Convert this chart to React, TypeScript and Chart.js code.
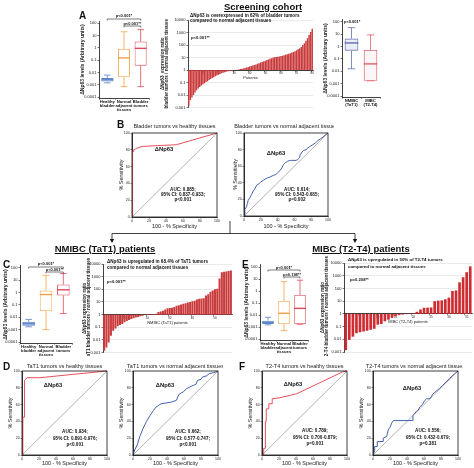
import React, { useEffect, useRef } from "react";
import { Chart, registerables } from "chart.js";

Chart.register(...registerables);

const FONT = "'Liberation Sans', Arial, Helvetica, sans-serif";
Chart.defaults.font.family = FONT;
Chart.defaults.color = "#1a1a1a";

// ---------- shared axis ticks ----------
const levelTicks = [0.0001, 0.001, 0.01, 0.1, 1, 10, 100];
const levelTickLabels = ["0.0001", "0.001", "0.01", "0.1", "1", "10", "100"];
const ratioTicks = [0.001, 0.01, 0.1, 1, 10, 100, 1000, 10000];
const ratioTickLabels = ["0.001", "0.01", "0.1", "1", "10", "100", "1000", "10000"];
const rocTicks = [0, 20, 40, 60, 80, 100];

const tissueGroups = [["Healthy", "bladder"], ["Normal", "adjacent", "tissues"], ["Bladder", "tumors"]];
const stageGroups = [["NMIBC", "(TaT1)"], ["MIBC", "(T2-T4)"]];

// ---------- A: screening cohort, ΔNp63 levels ----------
const screenMin = [0.0014, 0.0007, 0.0007];
const screenQ1 = [0.0018, 0.0044, 0.035];
const screenMedian = [0.0025, 0.15, 0.9];
const screenQ3 = [0.0035, 0.8, 3.2];
const screenMax = [0.006, 20, 30];

// A: tumour / adjacent tissue ratio per patient (sorted)
const screenRatios = [
  0.0014, 0.004, 0.0063, 0.01, 0.016, 0.024, 0.034, 0.045, 0.058, 0.072,
  0.088, 0.11, 0.13, 0.16, 0.19, 0.23, 0.27, 0.32, 0.37, 0.43,
  0.49, 0.55, 0.61, 0.67, 0.73, 0.79, 0.84, 0.89, 0.93, 0.97,
  1.02, 1.07, 1.12, 1.2, 1.26, 1.35, 1.45, 1.58, 1.74, 1.9,
  2.1, 2.3, 2.5, 2.8, 3.2, 3.5, 4.0, 4.5, 5.0, 5.6,
  6.3, 7.1, 7.9, 8.9, 10, 10.5, 11, 11.5, 12, 13,
  14, 15.5, 17, 18.5, 20, 22, 25, 28, 32, 38,
  45, 56, 71, 100, 141, 224, 355, 631, 1122, 1995,
];

// A: NMIBC vs MIBC levels
const stageMin = [0.016, 0.0017];
const stageQ1 = [0.47, 0.0017];
const stageMedian = [2, 0.04];
const stageQ3 = [4.5, 0.54];
const stageMax = [35, 9];

// ---------- B: ROC, screening cohort (x = 100 - specificity, y = sensitivity) ----------
const rocScreenHealthyX = [0, 0, 1, 1, 2, 2, 4, 6, 12, 30, 52, 100];
const rocScreenHealthyY = [0, 34, 34, 78, 78, 80, 81, 82, 84, 85, 86, 100];
const rocScreenAdjacentX = [0, 1, 1, 3, 4, 5, 7, 9, 11, 13, 15, 18, 20, 23, 26, 28, 31, 35, 38, 40, 43, 45, 47, 49, 52, 55, 58, 62, 64, 66, 67, 69, 71, 74, 76, 79, 82, 85, 88, 91, 94, 97, 100];
const rocScreenAdjacentY = [0, 5, 8, 11, 15, 19, 22, 26, 30, 33, 37, 39, 41, 43, 45, 46, 47, 49, 50, 52, 55, 58, 62, 64, 66, 67, 67, 67, 68, 70, 74, 77, 79, 80, 82, 84, 86, 88, 91, 93, 95, 98, 100];

// ---------- C: TaT1 patients ----------
const tat1Min = [0.0017, 0.001, 0.02];
const tat1Q1 = [0.0021, 0.032, 0.6];
const tat1Median = [0.003, 0.7, 1.7];
const tat1Q3 = [0.0044, 1.5, 4.5];
const tat1Max = [0.0068, 25, 35];

const tat1Ratios = [
  0.0014, 0.0025, 0.0063, 0.021, 0.054, 0.08, 0.12, 0.15, 0.18, 0.25,
  0.31, 0.38, 0.45, 0.51, 0.58, 0.65, 0.74, 0.83,
  1.02, 1.04, 1.06, 1.09, 1.13, 1.2, 1.58, 1.78, 2.0, 2.5,
  3.16, 3.3, 3.55, 4.0, 5.0, 5.6, 6.3, 7.1, 7.9, 8.9,
  10, 11.2, 12.6, 15.8, 17.8, 19, 20, 32, 40, 63,
  79, 100, 112, 700, 2200, 2400, 2600, 2800, 3000,
];

// ---------- D: ROC, TaT1 ----------
const rocTat1HealthyX = [0, 1, 1, 3, 3, 6, 21, 60, 100];
const rocTat1HealthyY = [0, 0, 45, 45, 89, 92, 92, 96, 100];
const rocTat1AdjacentX = [0, 2, 5, 8, 12, 16, 20, 24, 27, 30, 33, 39, 45, 51, 53, 55, 59, 63, 67, 71, 74, 76, 80, 82, 86, 90, 95, 100];
const rocTat1AdjacentY = [0, 6, 12, 22, 32, 40, 47, 53, 57, 59, 61, 62, 63, 65, 70, 73, 75, 79, 81, 83, 84, 89, 90, 93, 94, 97, 98, 100];

// ---------- E: T2-T4 patients ----------
const t2t4Min = [0.0015, 0.0005, 0.0017];
const t2t4Q1 = [0.0018, 0.0017, 0.0017];
const t2t4Median = [0.0025, 0.014, 0.036];
const t2t4Q3 = [0.0034, 0.15, 0.47];
const t2t4Max = [0.0065, 6, 8];

const t2t4Ratios = [
  0.0014, 0.009, 0.016, 0.03, 0.036, 0.041, 0.047, 0.056, 0.067, 0.14,
  0.16, 0.26, 0.35, 0.48, 0.65, 0.8, 0.88, 0.95,
  1.05, 1.15, 1.45, 2.2, 3.0, 3.1, 3.2, 10, 11, 11.5,
  14, 19, 63, 70, 300, 760, 1900, 5400,
];

// ---------- F: ROC, T2-T4 ----------
const rocT2t4HealthyX = [0, 2, 2, 4, 4, 5, 5, 8, 8, 12, 12, 20, 33, 41, 95, 100];
const rocT2t4HealthyY = [0, 0, 8, 8, 40, 40, 55, 55, 61, 61, 67, 68, 71, 73, 99, 100];
const rocT2t4AdjacentX = [0, 2, 2, 5, 5, 12, 12, 16, 18, 20, 22, 24, 27, 46, 47, 49, 51, 53, 55, 58, 61, 63, 67, 70, 72, 78, 82, 86, 90, 94, 100];
const rocT2t4AdjacentY = [0, 5, 10, 10, 16, 16, 20, 22, 30, 33, 38, 41, 41, 41, 47, 49, 52, 53, 57, 60, 65, 67, 67, 72, 74, 79, 83, 87, 91, 95, 100];

// ---------- colours ----------
const tissueColors = ["#5b82c9", "#f2a246", "#de4a5a"];
const tissueFills = ["rgba(91,130,201,0.18)", "rgba(255,255,255,0.9)", "rgba(255,255,255,0.9)"];
const stageColors = ["#5f6fb0", "#e0606c"];
const stageFills = ["rgba(95,111,176,0.12)", "rgba(224,96,108,0.06)"];
const barRed = "#c93b3c";
const rocRed = "#e8505a";
const rocBlue = "#4262aa";

type Rect = [number, number, number, number];
type Note = { text: string; dx: number; dy: number; size: number; bold?: boolean; align?: CanvasTextAlign; color?: string };
type Bracket = { from: number; to: number; dy: number; textDy: number; text: string };

function frame(canvas: Rect, area: Rect) {
  return {
    yW: area[0] - canvas[0],
    xH: canvas[3] - area[3],
    top: area[1] - canvas[1],
    right: canvas[2] - area[2],
  };
}

function logLabel(ticks: number[], labels: string[]) {
  return (v: number) => {
    const i = ticks.findIndex((t) => Math.abs(Math.log10(t) - Math.log10(v)) < 1e-6);
    return i >= 0 ? labels[i] : "";
  };
}

// text, p-value brackets and an optional frame around the plot area
function annotations(notes: Note[], brackets: Bracket[] = [], boxed = false) {
  return {
    id: "annotations",
    afterDraw(chart: any) {
      const { ctx, chartArea: a } = chart;
      ctx.save();
      if (boxed) {
        ctx.strokeStyle = "#111";
        ctx.lineWidth = 0.8;
        ctx.strokeRect(a.left, a.top, a.right - a.left, a.bottom - a.top);
      }
      const xs = chart.scales.x;
      brackets.forEach((b) => {
        const x1 = xs.getPixelForValue(b.from);
        const x2 = xs.getPixelForValue(b.to);
        const y = a.top + b.dy;
        ctx.strokeStyle = "#222";
        ctx.lineWidth = 0.6;
        ctx.beginPath();
        ctx.moveTo(x1, y + 1.5);
        ctx.lineTo(x1, y);
        ctx.lineTo(x2, y);
        ctx.lineTo(x2, y + 1.5);
        ctx.stroke();
        ctx.font = `bold 4px ${FONT}`;
        ctx.fillStyle = "#111";
        ctx.textAlign = "center";
        ctx.textBaseline = "middle";
        ctx.fillText(b.text, (x1 + x2) / 2, a.top + b.textDy);
      });
      notes.forEach((n) => {
        ctx.font = `${n.bold ? "bold " : ""}${n.size}px ${FONT}`;
        ctx.fillStyle = n.color || "#111";
        ctx.textAlign = n.align || "left";
        ctx.textBaseline = "middle";
        ctx.fillText(n.text, a.left + n.dx, a.top + n.dy);
      });
      ctx.restore();
    },
  };
}

// whiskers, caps and median lines for the floating-bar boxes
function whiskers(lo: number[], q1: number[], mid: number[], q3: number[], hi: number[], colors: string[]) {
  return {
    id: "whiskers",
    afterDatasetsDraw(chart: any) {
      const { ctx } = chart;
      const ys = chart.scales.y;
      const py = (v: number) => ys.getPixelForValue(v);
      chart.getDatasetMeta(0).data.forEach((bar: any, i: number) => {
        const x = bar.x;
        const half = bar.width / 2;
        const cap = half * 0.55;
        ctx.save();
        ctx.strokeStyle = colors[i];
        ctx.lineWidth = 0.8;
        ctx.beginPath();
        ctx.moveTo(x, py(q3[i]));
        ctx.lineTo(x, py(hi[i]));
        ctx.moveTo(x - cap, py(hi[i]));
        ctx.lineTo(x + cap, py(hi[i]));
        ctx.moveTo(x, py(q1[i]));
        ctx.lineTo(x, py(lo[i]));
        ctx.moveTo(x - cap, py(lo[i]));
        ctx.lineTo(x + cap, py(lo[i]));
        ctx.stroke();
        ctx.lineWidth = 1.4;
        ctx.beginPath();
        ctx.moveTo(x - half, py(mid[i]));
        ctx.lineTo(x + half, py(mid[i]));
        ctx.stroke();
        ctx.restore();
      });
    },
  };
}

const baseOptions = {
  responsive: false,
  animation: false,
  devicePixelRatio: 1,
  events: [] as string[],
};

const tickGrid = { drawOnChartArea: false, tickLength: 1.5, color: "#222", lineWidth: 0.6 };
const axisBorder = { color: "#111", width: 0.8 };

function boxPlotConfig(p: {
  canvas: Rect; area: Rect; groups: string[][];
  lo: number[]; q1: number[]; mid: number[]; q3: number[]; hi: number[];
  colors: string[]; fills: string[]; brackets: Bracket[]; notes: Note[];
}) {
  const g = frame(p.canvas, p.area);
  return {
    type: "bar",
    data: {
      labels: p.groups,
      datasets: [{
        data: p.q1.map((v, i) => [v, p.q3[i]]),
        backgroundColor: p.fills,
        borderColor: p.colors,
        borderWidth: 0.9,
        borderSkipped: false,
        barPercentage: 0.72,
        categoryPercentage: 1,
      }],
    },
    options: {
      ...baseOptions,
      layout: { padding: { top: g.top, right: g.right, left: 0, bottom: 0 } },
      plugins: { legend: { display: false }, tooltip: { enabled: false } },
      scales: {
        x: {
          grid: tickGrid,
          border: axisBorder,
          ticks: { font: { size: 4.2, weight: "bold", lineHeight: 0.85 }, padding: 0.8, autoSkip: false, maxRotation: 0, color: "#111" },
          afterFit: (s: any) => { s.height = g.xH; },
        },
        y: {
          type: "logarithmic",
          min: 0.00008,
          max: 150,
          afterBuildTicks: (s: any) => { s.ticks = levelTicks.map((value) => ({ value })); },
          ticks: { callback: logLabel(levelTicks, levelTickLabels), font: { size: 4 }, padding: 1, autoSkip: false },
          grid: tickGrid,
          border: axisBorder,
          title: { display: true, text: "ΔNp63 levels (Arbitrary units)", font: { size: 5, weight: "bold" }, padding: 0 },
          afterFit: (s: any) => { s.width = g.yW; },
        },
      },
    },
    plugins: [whiskers(p.lo, p.q1, p.mid, p.q3, p.hi, p.colors), annotations(p.notes, p.brackets)],
  };
}

function waterfallConfig(p: {
  canvas: Rect; area: Rect; values: number[]; color: string; barPct: number;
  yTitle: string[]; xTitle: string; every: number; notes: Note[];
}) {
  const g = frame(p.canvas, p.area);
  return {
    type: "bar",
    data: {
      labels: p.values.map((_, i) => String(i + 1)),
      datasets: [{
        data: p.values.map((v) => [1, v]),
        backgroundColor: p.color,
        borderWidth: 0,
        barPercentage: p.barPct,
        categoryPercentage: 1,
      }],
    },
    options: {
      ...baseOptions,
      layout: { padding: { top: g.top, right: g.right, left: 0, bottom: g.xH } },
      plugins: { legend: { display: false }, tooltip: { enabled: false } },
      scales: {
        x: {
          position: { y: 1 },
          z: 1,
          grid: {
            drawOnChartArea: false,
            tickLength: 1.5,
            lineWidth: 0.5,
            tickColor: (c: any) => ((c.index + 1) % p.every === 0 ? "#222" : "rgba(0,0,0,0)"),
          },
          border: axisBorder,
          ticks: {
            font: { size: 3 },
            padding: 0.3,
            autoSkip: false,
            maxRotation: 0,
            callback: (_v: any, i: number) => ((i + 1) % p.every === 0 ? String(i + 1) : ""),
          },
          title: { display: true, text: p.xTitle, font: { size: 4 }, padding: 0 },
        },
        y: {
          type: "logarithmic",
          min: 0.001,
          max: 10000,
          afterBuildTicks: (s: any) => { s.ticks = ratioTicks.map((value) => ({ value })); },
          ticks: { callback: logLabel(ratioTicks, ratioTickLabels), font: { size: 4 }, padding: 1, autoSkip: false },
          grid: { color: "#dedede", lineWidth: 0.6, tickLength: 1.5, tickColor: "#222" },
          border: axisBorder,
          title: { display: true, text: p.yTitle, font: { size: 4.6, weight: "bold", lineHeight: 1 }, padding: 0 },
          afterFit: (s: any) => { s.width = g.yW; },
        },
      },
    },
    plugins: [annotations(p.notes)],
  };
}

function rocConfig(p: {
  canvas: Rect; area: Rect; fx: number[]; fy: number[]; color: string;
  title: string; titleDy: number; notes: Note[];
}) {
  const g = frame(p.canvas, p.area);
  const axis = (title: string, fit: (s: any) => void) => ({
    type: "linear",
    min: 0,
    max: 100,
    afterBuildTicks: (s: any) => { s.ticks = rocTicks.map((value) => ({ value })); },
    ticks: { font: { size: 3.5 }, padding: 0.8, autoSkip: false },
    grid: { drawOnChartArea: false, tickLength: 1.5, color: "#222", lineWidth: 0.5 },
    border: axisBorder,
    title: { display: true, text: title, font: { size: 5.5 }, padding: 0 },
    afterFit: fit,
  });
  const mid = (p.area[2] - p.area[0]) / 2;
  return {
    type: "line",
    data: {
      datasets: [
        { data: [{ x: 0, y: 0 }, { x: 100, y: 100 }], borderColor: "#666", borderWidth: 0.5, pointRadius: 0 },
        { data: p.fx.map((x, i) => ({ x, y: p.fy[i] })), borderColor: p.color, borderWidth: 1, pointRadius: 0, tension: 0, clip: 2 },
      ],
    },
    options: {
      ...baseOptions,
      layout: { padding: { top: g.top, right: g.right, left: 0, bottom: 0 } },
      plugins: { legend: { display: false }, tooltip: { enabled: false } },
      scales: {
        x: axis("100 - % Specificity", (s) => { s.height = g.xH; }),
        y: axis("% Sensitivity", (s) => { s.width = g.yW; }),
      },
    },
    plugins: [annotations([{ text: p.title, dx: mid, dy: p.titleDy, size: 5.5, align: "center", color: "#222" }, ...p.notes], [], true)],
  };
}

function ChartCanvas({ box, build }: { box: Rect; build: () => any }) {
  const ref = useRef<HTMLCanvasElement>(null);
  useEffect(() => {
    const chart = new Chart(ref.current as HTMLCanvasElement, build());
    return () => chart.destroy();
  }, []);
  const [L, T, R, B] = box;
  return (
    <canvas
      ref={ref}
      width={R - L}
      height={B - T}
      style={{ position: "absolute", left: L, top: T, width: R - L, height: B - T }}
    />
  );
}

const aucNotes = (cx: number, dy: number, gap: number, auc: string, ci: string, pv: string, lx: number, ly: number): Note[] => [
  { text: "ΔNp63", dx: lx, dy: ly, size: 5.8, bold: true, align: "center" },
  { text: `AUC: ${auc};`, dx: cx, dy, size: 4.6, bold: true, align: "center" },
  { text: `95% CI: ${ci};`, dx: cx, dy: dy + gap, size: 4.6, bold: true, align: "center" },
  { text: pv, dx: cx, dy: dy + gap * 2, size: 4.6, bold: true, align: "center" },
];

const panels: { box: Rect; build: () => any }[] = [
  // A: screening cohort levels
  {
    box: [80, 8, 152, 113],
    build: () => boxPlotConfig({
      canvas: [80, 8, 152, 113], area: [99, 21, 149, 98.2], groups: tissueGroups,
      lo: screenMin, q1: screenQ1, mid: screenMedian, q3: screenQ3, hi: screenMax,
      colors: tissueColors, fills: tissueFills,
      brackets: [
        { from: 0, to: 2, dy: -2, textDy: -5.5, text: "p<0.001*" },
        { from: 1, to: 2, dy: 5, textDy: 2.5, text: "p<0.001**" },
      ],
      notes: [],
    }),
  },
  // A: waterfall
  {
    box: [160, 13, 316, 111],
    build: () => waterfallConfig({
      canvas: [160, 13, 316, 111], area: [188, 20, 313, 108], values: screenRatios, color: barRed, barPct: 0.93,
      yTitle: ["ΔNp63  expression ratio", "bladder tumors / normal adjacent tissues"], xTitle: "Patients", every: 10,
      notes: [
        { text: "ΔNp63 is overexpressed in 62% of bladder tumors", dx: 2, dy: -4, size: 4.6, bold: true },
        { text: "compared to normal adjacent tissues", dx: 2, dy: 1, size: 4.6, bold: true },
        { text: "p<0.001**", dx: 3, dy: 18, size: 4.2, bold: true },
      ],
    }),
  },
  // A: NMIBC vs MIBC
  {
    box: [323, 13, 385, 112],
    build: () => boxPlotConfig({
      canvas: [323, 13, 385, 112], area: [342, 19.8, 380, 97.2], groups: stageGroups,
      lo: stageMin, q1: stageQ1, mid: stageMedian, q3: stageQ3, hi: stageMax,
      colors: stageColors, fills: stageFills, brackets: [],
      notes: [{ text: "p<0.001*", dx: 2, dy: 2.2, size: 4, bold: true }],
    }),
  },
  // B
  {
    box: [118, 120, 222, 230],
    build: () => rocConfig({
      canvas: [118, 120, 222, 230], area: [132, 133, 217, 217], fx: rocScreenHealthyX, fy: rocScreenHealthyY,
      color: rocRed, title: "Bladder tumors vs healthy tissues", titleDy: -7,
      notes: aucNotes(51, 57, 5, "0.885", "0.837-0.933", "p<0.001", 32, 16),
    }),
  },
  {
    box: [232, 120, 334, 230],
    build: () => rocConfig({
      canvas: [232, 120, 334, 230], area: [244, 133, 328, 216], fx: rocScreenAdjacentX, fy: rocScreenAdjacentY,
      color: rocBlue, title: "Bladder tumors vs normal adjacent tissues", titleDy: -7,
      notes: aucNotes(53, 57, 5, "0.614", "0.543-0.685", "p=0.002", 32, 20),
    }),
  },
  // C
  {
    box: [3, 255, 82, 360],
    build: () => boxPlotConfig({
      canvas: [3, 255, 82, 360], area: [20, 265.8, 72, 343.2], groups: tissueGroups,
      lo: tat1Min, q1: tat1Q1, mid: tat1Median, q3: tat1Q3, hi: tat1Max,
      colors: tissueColors, fills: tissueFills,
      brackets: [
        { from: 0, to: 2, dy: 1.2, textDy: -1.8, text: "p<0.001*" },
        { from: 1, to: 2, dy: 6.2, textDy: 3.7, text: "p<0.001**" },
      ],
      notes: [],
    }),
  },
  {
    box: [82, 256, 236, 356],
    build: () => waterfallConfig({
      canvas: [82, 256, 236, 356], area: [103, 264, 232, 353], values: tat1Ratios, color: barRed, barPct: 0.9,
      yTitle: ["ΔNp63 expression ratio", "TaT1 bladder tumors / normal adjacent tissues"], xTitle: "NMIBC (TaT1) patients", every: 10,
      notes: [
        { text: "ΔNp63 is upregulated in 68.4% of TaT1 tumors", dx: 4, dy: -2.3, size: 4.6, bold: true },
        { text: "compared to normal adjacent tissues", dx: 4, dy: 4, size: 4.6, bold: true },
        { text: "p<0.001**", dx: 4, dy: 18, size: 4.2, bold: true },
      ],
    }),
  },
  // E
  {
    box: [244, 255, 312, 361],
    build: () => boxPlotConfig({
      canvas: [244, 255, 312, 361], area: [260, 264.9, 308, 340.2], groups: tissueGroups,
      lo: t2t4Min, q1: t2t4Q1, mid: t2t4Median, q3: t2t4Q3, hi: t2t4Max,
      colors: tissueColors, fills: tissueFills,
      brackets: [
        { from: 0, to: 2, dy: 5.1, textDy: 2.6, text: "p<0.001*" },
        { from: 1, to: 2, dy: 12.1, textDy: 9.6, text: "p=0.198**" },
      ],
      notes: [],
    }),
  },
  {
    box: [320, 256, 474, 356],
    build: () => waterfallConfig({
      canvas: [320, 256, 474, 356], area: [344, 263, 472, 352], values: t2t4Ratios, color: "#cf2c32", barPct: 0.75,
      yTitle: ["ΔNp63 expression ratio", "T2-T4 bladder tumors / normal adjacent tissues"], xTitle: "MIBC (T2-T4) patients", every: 5,
      notes: [
        { text: "ΔNp63 is upregulated in 50% of T2-T4 tumors", dx: 4, dy: -3, size: 4.4, bold: true },
        { text: "compared to normal adjacent tissues", dx: 4, dy: 3.5, size: 4.4, bold: true },
        { text: "p=0.208**", dx: 6, dy: 17, size: 4.2, bold: true },
      ],
    }),
  },
  // D
  {
    box: [7, 361, 112, 467],
    build: () => rocConfig({
      canvas: [7, 361, 112, 467], area: [22, 371, 107, 455], fx: rocTat1HealthyX, fy: rocTat1HealthyY,
      color: rocRed, title: "TaT1 tumors vs healthy tissues", titleDy: -5,
      notes: aucNotes(53, 61, 6.5, "0.934", "0.891-0.976", "p<0.001", 31, 14),
    }),
  },
  {
    box: [118, 361, 223, 467],
    build: () => rocConfig({
      canvas: [118, 361, 223, 467], area: [133, 371, 218, 455], fx: rocTat1AdjacentX, fy: rocTat1AdjacentY,
      color: rocBlue, title: "TaT1 tumors vs normal adjacent tissues", titleDy: -5,
      notes: aucNotes(55, 61, 6.5, "0.662", "0.577-0.747", "p<0.001", 32, 14),
    }),
  },
  // F
  {
    box: [247, 361, 352, 467],
    build: () => rocConfig({
      canvas: [247, 361, 352, 467], area: [262, 371, 347, 455], fx: rocT2t4HealthyX, fy: rocT2t4HealthyY,
      color: rocRed, title: "T2-T4 tumors vs healthy tissues", titleDy: -5,
      notes: aucNotes(53, 60, 6.5, "0.789", "0.700-0.879", "p=0.001", 31, 13),
    }),
  },
  {
    box: [358, 361, 463, 467],
    build: () => rocConfig({
      canvas: [358, 361, 463, 467], area: [373, 371, 458, 455], fx: rocT2t4AdjacentX, fy: rocT2t4AdjacentY,
      color: rocBlue, title: "T2-T4 tumors vs normal adjacent tissues", titleDy: -5,
      notes: aucNotes(55, 60, 6.5, "0.556", "0.432-0.679", "p=0.381", 39, 17),
    }),
  },
];

const letterStyle = (left: number, top: number): React.CSSProperties => ({
  position: "absolute", left, top, font: `bold 10px ${FONT}`, color: "#111", lineHeight: "10px",
});

const headingStyle = (cx: number, top: number): React.CSSProperties => ({
  position: "absolute", left: cx - 80, top, width: 160, textAlign: "center",
  font: `bold 9.5px ${FONT}`, color: "#111", textDecoration: "underline", lineHeight: "11px",
});

export default function App() {
  return (
    <div style={{ position: "fixed", left: 0, top: 0, width: 474, height: 468, background: "#fff", overflow: "hidden" }}>
      {panels.map((p, i) => (
        <ChartCanvas key={i} box={p.box} build={p.build} />
      ))}
      <svg width={474} height={468} style={{ position: "absolute", left: 0, top: 0, pointerEvents: "none" }}>
        <g stroke="#111" strokeWidth={0.8} fill="none">
          <line x1={230} y1={221} x2={230} y2={233.5} />
          <line x1={112} y1={233.5} x2={355} y2={233.5} />
          <line x1={112} y1={233.5} x2={112} y2={239.5} />
          <line x1={355} y1={233.5} x2={355} y2={239.5} />
        </g>
        <polygon points="109.8,239 114.2,239 112,243" fill="#111" />
        <polygon points="352.8,239 357.2,239 355,243" fill="#111" />
      </svg>
      <div style={headingStyle(263, 1)}>Screening cohort</div>
      <div style={headingStyle(105, 243)}>NMIBC (TaT1) patients</div>
      <div style={headingStyle(361, 243)}>MIBC (T2-T4) patients</div>
      <div style={letterStyle(79, 11)}>A</div>
      <div style={letterStyle(117, 120)}>B</div>
      <div style={letterStyle(3, 260)}>C</div>
      <div style={letterStyle(3, 362)}>D</div>
      <div style={letterStyle(242, 260)}>E</div>
      <div style={letterStyle(239, 362)}>F</div>
    </div>
  );
}
